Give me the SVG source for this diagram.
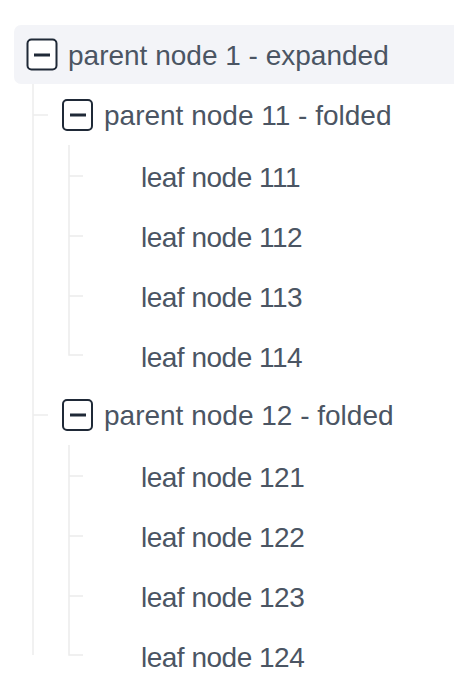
<svg xmlns="http://www.w3.org/2000/svg" width="454" height="686" viewBox="0 0 454 686">
<style>
.t{font-family:"Liberation Sans",Arial,sans-serif;font-size:28px;fill:#4b5563}
.lf{letter-spacing:-0.5px}
.box{fill:#fff;stroke:#1f2937;stroke-width:2}
.minus{stroke:#1f2937;stroke-width:3;stroke-linecap:butt}
.ln{fill:none;stroke:#ececec;stroke-width:1.5}
</style>
<rect x="14" y="25" width="450" height="59" rx="7" fill="#f3f4f8"/>
<g id="connectors">
<path class="ln" d="M33 84V655"/>
<path class="ln" d="M33 115H48"/>
<path class="ln" d="M33 415H48"/>
<path class="ln" d="M69 145V355H83M69 176H83M69 236H83M69 296H83"/>
<path class="ln" d="M69 445V655H83M69 476H83M69 536H83M69 596H83"/>
</g>
<g id="n1">
<rect class="box" x="27.5" y="39.5" width="29" height="30" rx="4"/>
<path class="minus" d="M34 55H50"/>
<text class="t" x="68" y="65">parent node 1 - expanded</text>
</g>
<g id="n11">
<rect class="box" x="63" y="100" width="29" height="30" rx="4"/>
<path class="minus" d="M70 115H86"/>
<text class="t" x="104" y="125">parent node 11 - folded</text>
</g>
<g id="n111"><text class="t lf" x="141" y="187">leaf node 111</text></g>
<g id="n112"><text class="t lf" x="141" y="247">leaf node 112</text></g>
<g id="n113"><text class="t lf" x="141" y="307">leaf node 113</text></g>
<g id="n114"><text class="t lf" x="141" y="367">leaf node 114</text></g>
<g id="n12">
<rect class="box" x="63" y="400" width="29" height="30" rx="4"/>
<path class="minus" d="M70 415H86"/>
<text class="t" x="104" y="425">parent node 12 - folded</text>
</g>
<g id="n121"><text class="t lf" x="141" y="487">leaf node 121</text></g>
<g id="n122"><text class="t lf" x="141" y="547">leaf node 122</text></g>
<g id="n123"><text class="t lf" x="141" y="607">leaf node 123</text></g>
<g id="n124"><text class="t lf" x="141" y="667">leaf node 124</text></g>
</svg>
